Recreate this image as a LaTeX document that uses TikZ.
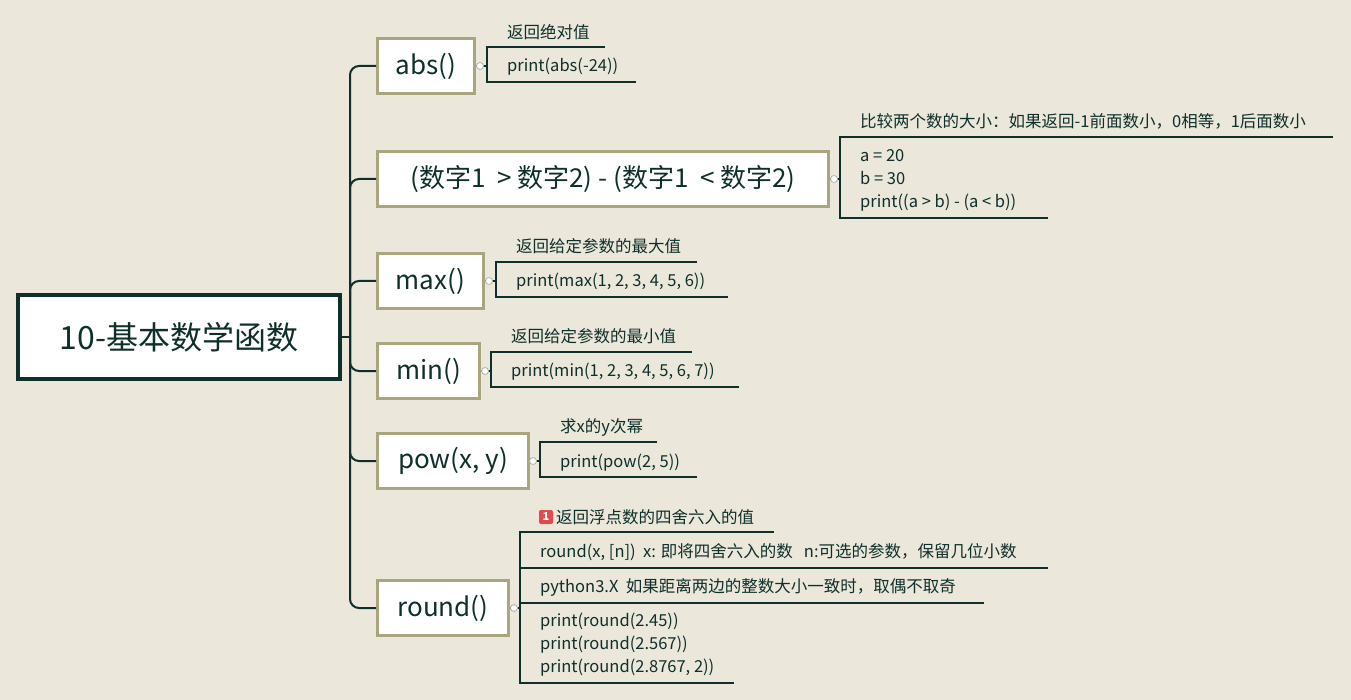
\documentclass[tikz,border=0pt]{standalone}
\usepackage{fontspec}
\setmainfont{Noto Sans CJK SC}
\definecolor{bg}{HTML}{EBE7DB}
\definecolor{dk}{HTML}{0E2F2A}
\definecolor{ol}{HTML}{A9A57E}
\definecolor{bd}{HTML}{E24B4B}
\tikzset{
  root/.style={draw=dk,line width=4pt,fill=white,minimum width=322,minimum height=83,font=\fontsize{32}{36}\selectfont,text=dk},
  br/.style={draw=ol,line width=3pt,fill=white,minimum height=55,inner xsep=12,font=\fontsize{26}{30}\selectfont,text=dk,anchor=west},
  lf/.style={anchor=west,font=\fontsize{16.5}{23}\selectfont,text=dk,inner sep=0,align=left},
  ln/.style={draw=dk,line width=2pt},
  tr/.style={draw=dk,line width=2pt,rounded corners=9},
  knob/.style={circle,draw=gray!60,fill=white,inner sep=0pt,minimum size=7pt,line width=0.8pt}
}
\begin{document}
\begin{tikzpicture}[x=1pt,y=-1pt]
\useasboundingbox[fill=bg] (0,0) rectangle (1351,700);
\node[root] (r) at (179,337) {10-基本数学函数};
\coordinate (t) at (350,337);
\node[br,minimum width=97] (a) at (376,66) {abs()};
\node[br,minimum width=451] (d) at (376,179) {(数字1 \ > 数字2) - (数字1 \ < 数字2)};
\node[br,minimum width=106] (m) at (376,281) {max()};
\node[br,minimum width=102] (n) at (376,371) {min()};
\node[br,minimum width=151] (p) at (376,461) {pow(x, y)};
\node[br,minimum width=131] (o) at (376,608) {round()};
\draw[tr] (r.east) -- (t);
\foreach \b in {a,d,m,n,p,o} \draw[tr] (t) |- (\b.west);
% abs
\draw[ln] (605,47) -- (487,47) -- (487,82) -- (636,82);
\node[lf] (a1) at (507,32) {返回绝对值};
\node[lf] (a2) at (507,67) {print(abs(-24))};
\draw[ln] (a.east) -- (487,66); \node[knob] at (480,66) {};
% diff
\draw[ln] (1333,137) -- (840,137) -- (840,218) -- (1048,218);
\node[lf] (d1) at (860,121) {比较两个数的大小：如果返回-1前面数小，0相等，1后面数小};
\node[lf] (d2) at (860,180) {a = 20\\b = 30\\print((a > b) - (a < b))};
\draw[ln] (d.east) -- (840,179); \node[knob] at (834,179) {};
% max
\draw[ln] (697,262) -- (496,262) -- (496,297) -- (728,297);
\node[lf] (m1) at (516,246) {返回给定参数的最大值};
\node[lf] (m2) at (516,282) {print(max(1, 2, 3, 4, 5, 6))};
\draw[ln] (m.east) -- (496,281); \node[knob] at (489,281) {};
% min
\draw[ln] (692,352) -- (491,352) -- (491,387) -- (739,387);
\node[lf] (n1) at (511,336) {返回给定参数的最小值};
\node[lf] (n2) at (511,372) {print(min(1, 2, 3, 4, 5, 6, 7))};
\draw[ln] (n.east) -- (491,371); \node[knob] at (485,371) {};
% pow
\draw[ln] (657,442) -- (540,442) -- (540,477) -- (697,477);
\node[lf] (p1) at (560,427) {求x的y次幂};
\node[lf] (p2) at (560,463) {print(pow(2, 5))};
\draw[ln] (p.east) -- (540,461); \node[knob] at (533,461) {};
% round
\draw[ln] (774,532) -- (520,532) -- (520,683) -- (734,683);
\draw[ln] (520,568) -- (1048,568);
\draw[ln] (520,603) -- (984,603);
\node[fill=bd,rounded corners=2,inner sep=0,minimum size=14,text=white,font=\bfseries\fontsize{11}{11}\selectfont] (b) at (546,517) {1};
\node[lf] (o1) at (556,517) {返回浮点数的四舍六入的值};
\node[lf] (o2) at (540,552) {round(x, [n])\ \ x: 即将四舍六入的数\ \ \ n:可选的参数，保留几位小数};
\node[lf] (o3) at (540,587) {python3.X\ \ 如果距离两边的整数大小一致时，取偶不取奇};
\node[lf] (o4) at (540,645) {print(round(2.45))\\print(round(2.567))\\print(round(2.8767, 2))};
\draw[ln] (o.east) -- (520,608); \node[knob] at (514,608) {};
\end{tikzpicture}
\end{document}
